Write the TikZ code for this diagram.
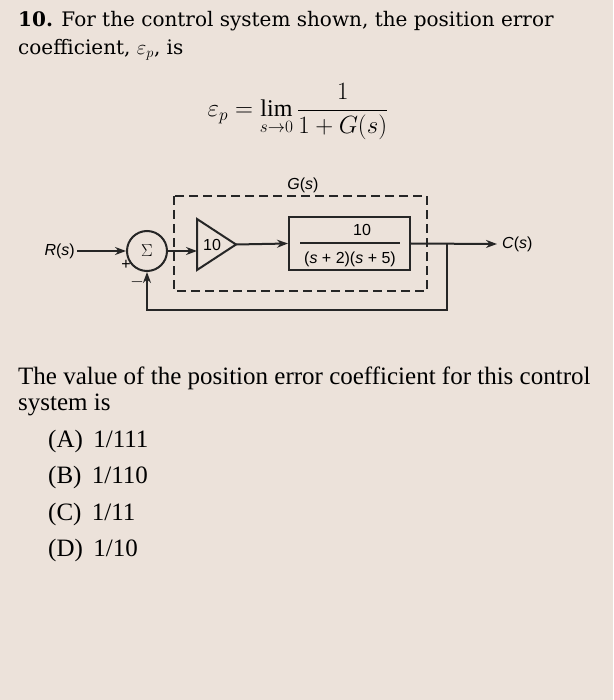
\documentclass[tikz,border=0pt]{standalone}
\usepackage{fontspec}
\usepackage{amsmath}
\setmainfont{Liberation Serif}
\newfontfamily\dsans{Liberation Sans}
\newfontfamily\dser{DejaVu Serif}
\usetikzlibrary{arrows.meta}
\begin{document}
\begin{tikzpicture}[x=1pt,y=-1pt,
  ln/.style={line width=2pt,draw=black!85},
  arr/.style={ln,-{Stealth[length=11pt,width=8pt]}},
  lbl/.style={font=\dsans\fontsize{16}{18}\selectfont,inner sep=1pt},
  txt/.style={font=\fontsize{25}{28}\selectfont,anchor=west,inner sep=0pt},
  mtxt/.style={font=\dser\fontsize{20}{22}\selectfont,anchor=west,inner sep=0pt}]
\fill[fill={rgb,255:red,236;green,226;blue,218}] (0,0) rectangle (613,700);
\useasboundingbox (0,0) rectangle (613,700);
\node[mtxt] (t1) at (18,21) {\textbf{10.} For the control system shown, the position error};
\node[mtxt] (t2) at (18,50) {coefficient, $\varepsilon_p$, is};
\node[font=\fontsize{24}{26}\selectfont] (eq) at (298,112) {$\varepsilon_p=\lim\limits_{s\to0}\dfrac{1}{1+G(s)}$};
% diagram
\node[ln,circle,minimum size=40pt,inner sep=0pt,font=\fontsize{16}{16}\selectfont] (sum) at (147,251) {$\Sigma$};
\node[lbl,anchor=east] (R) at (76,251) {\textit{R}(\textit{s})};
\coordinate (rs) at (77,251);
\draw[arr] (rs) -- (sum.west);
\node[lbl] (plus) at (126,265) {+};
\node[lbl] (minus) at (137,282) {$-$};
\draw[ln,dashed,dash pattern=on 9pt off 5pt] (174,196) rectangle (427,291);
\node[lbl] (G) at (303,185) {\textit{G}(\textit{s})};
\coordinate (t1a) at (197,219); \coordinate (t1b) at (197,270); \coordinate (tip) at (236,244.5);
\draw[ln,fill={rgb,255:red,236;green,226;blue,218}] (t1a) -- (tip) -- (t1b) -- cycle;
\node[lbl] (ten) at (212,244.5) {10};
\coordinate (tin) at (197,251);
\draw[arr] (sum.east) -- (tin);
\node[ln,rectangle,minimum width=121pt,minimum height=53pt,inner sep=0pt] (box) at (349.5,243.5) {};
\node[lbl] (num) at (362,230) {10};
\draw[ln] (300,243) -- (400,243);
\node[lbl] (den) at (350,259) {(\textit{s} + 2)(\textit{s} + 5)};
\draw[arr] (tip) -- (box.west);
\coordinate (br) at (447,244);
\coordinate (out) at (497,244);
\draw[arr] (box.east) -- (out);
\node[lbl,anchor=west] (C) at (501,244) {\textit{C}(\textit{s})};
\coordinate (fb1) at (447,310); \coordinate (fb2) at (147,310);
\draw[arr] (br) -- (fb1) -- (fb2) -- (sum.south);
\node[txt] (b1) at (18,378) {The value of the position error coefficient for this control};
\node[txt] (b2) at (18,405) {system is};
\node[txt] (A) at (48,441) {(A)\, 1/111};
\node[txt] (B) at (48,477) {(B)\, 1/110};
\node[txt] (Cc) at (48,514) {(C)\, 1/11};
\node[txt] (D) at (48,550) {(D)\, 1/10};
\end{tikzpicture}
\end{document}
